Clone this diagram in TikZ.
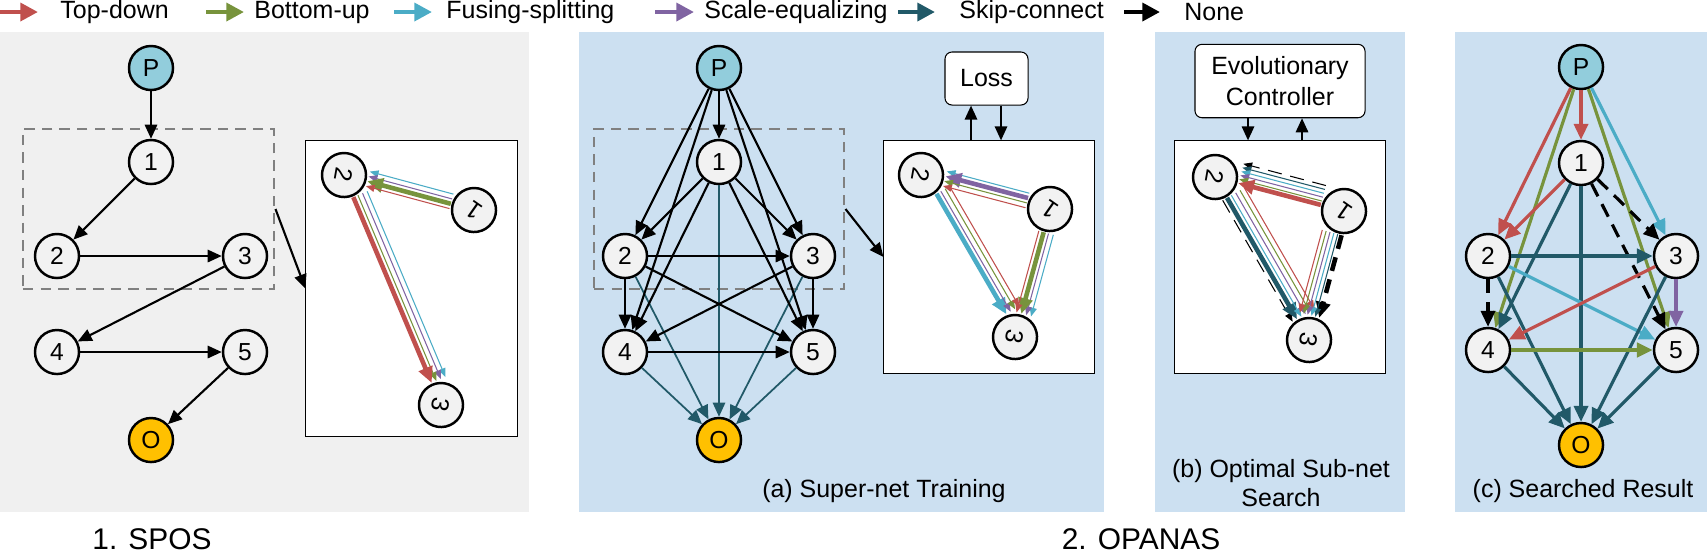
\documentclass[tikz,border=0pt]{standalone}
\usepackage{fontspec}
\setmainfont{Liberation Sans}
\usetikzlibrary{arrows.meta,calc}
\definecolor{cTD}{HTML}{C0504D}
\definecolor{cBU}{HTML}{77933C}
\definecolor{cFS}{HTML}{4BACC6}
\definecolor{cSE}{HTML}{8064A2}
\definecolor{cSK}{HTML}{215968}
\definecolor{ndfill}{HTML}{F2F2F2}
\definecolor{pfill}{HTML}{92CDDC}
\definecolor{ofill}{HTML}{FFC000}
\definecolor{grayp}{HTML}{F0F0F0}
\definecolor{bluep}{HTML}{CCE0F1}
\tikzset{
  nd/.style={circle,draw,line width=0.7pt,fill=ndfill,minimum size=0.44cm,inner sep=0pt,font=\fontsize{7}{8}\selectfont},
  pn/.style={nd,fill=pfill},
  onode/.style={nd,fill=ofill},
  ar/.style={line width=0.6pt,-{Triangle[length=4pt,width=3.5pt]}},
  thn/.style={line width=0.3pt,-{Triangle[length=2.5pt,width=2pt]}},
  thk/.style={line width=1.3pt,-{Triangle[length=4.5pt,width=4pt]}},
  none/.style={dashed,dash pattern=on 4pt off 2.5pt},
  lg/.style={line width=1.3pt,-{Triangle[length=5pt,width=5pt]}},
  lt/.style={anchor=west,font=\fontsize{7.1}{8}\selectfont},
  box/.style={draw,line width=0.3pt,fill=white},
  capt/.style={font=\fontsize{7.1}{8.5}\selectfont,align=center},
  dbox/.style={draw=black!50,dashed,line width=0.8pt,dash pattern=on 3pt off 2pt},
}
% bundle of parallel edges: from, to, list of offset/style
\newcommand\bundle[3]{%
  \path ($(#1)!0.24cm!(#2)$) coordinate (bs) ($(#2)!0.24cm!(#1)$) coordinate (be);
  \foreach \o/\s in {#3}{
    \tikzset{bst/.style/.expand once=\s}
    \draw[bst] ($(bs)!\o!90:(#2)$) -- ($(be)!\o!-90:(#1)$);
  }}
\begin{document}
\begin{tikzpicture}[x=0.01cm,y=-0.01cm]
\useasboundingbox (0,0) rectangle (1707,553);
% panels
\fill[grayp] (0,32) rectangle (529,512);
\fill[bluep] (579,32) rectangle (1104,512);
\fill[bluep] (1155,32) rectangle (1405,512);
\fill[bluep] (1455,32) rectangle (1707,512);
% legend
\coordinate (l1a) at (0,12); \coordinate (l1b) at (38,12);
\draw[lg,cTD] (l1a) -- (l1b); \node[lt] (t1) at (48,12) {Top-down};
\coordinate (l2a) at (206,12); \coordinate (l2b) at (244,12);
\draw[lg,cBU] (l2a) -- (l2b); \node[lt] (t2) at (242,12) {Bottom-up};
\coordinate (l3a) at (394,12); \coordinate (l3b) at (432,12);
\draw[lg,cFS] (l3a) -- (l3b); \node[lt] (t3) at (434,12) {Fusing-splitting};
\coordinate (l4a) at (655,12); \coordinate (l4b) at (694,12);
\draw[lg,cSE] (l4a) -- (l4b); \node[lt] (t4) at (692,12) {Scale-equalizing};
\coordinate (l5a) at (898,12); \coordinate (l5b) at (935,12);
\draw[lg,cSK] (l5a) -- (l5b); \node[lt] (t5) at (947,12) {Skip-connect};
\coordinate (l6a) at (1124,12); \coordinate (l6b) at (1160,12);
\draw[lg,none,dash pattern=on 6pt off 4pt] (l6a) -- (l6b); \node[lt] (t6) at (1172,12) {None};

% ---------- SPOS ----------
\node[dbox,minimum width=2.51cm,minimum height=1.6cm] (sd) at (148.5,209) {};
\node[box,minimum width=2.11cm,minimum height=2.95cm] (sb) at (411.5,288.5) {};
\draw[ar] (sd.east) -- (sb.west);
\node[pn] (sP) at (151,68) {P};
\node[nd] (s1) at (151,162) {1};
\node[nd] (s2) at (57,256) {2};
\node[nd] (s3) at (245,256) {3};
\node[nd] (s4) at (57,352) {4};
\node[nd] (s5) at (245,352) {5};
\node[onode] (sO) at (151,440) {O};
\draw[ar] (sP) -- (s1); \draw[ar] (s1) -- (s2); \draw[ar] (s2) -- (s3);
\draw[ar] (s3) -- (s4); \draw[ar] (s4) -- (s5); \draw[ar] (s5) -- (sO);
\node[nd,rotate=-100] (i2) at (344,175) {2};
\node[nd,rotate=145] (i1) at (474,210) {1};
\node[nd,rotate=-100] (i3) at (441,405) {3};
\bundle{i1}{i2}{-0.1cm/{thn,cFS},-0.05cm/{thn,cSE},0cm/{thk,cBU},0.05cm/{thn,cTD}}
\bundle{i2}{i3}{0.15cm/{thn,cFS},0.1cm/{thn,cSE},0.05cm/{thn,cBU},0cm/{thk,cTD}}
\node[capt,font=\fontsize{8.5}{10}\selectfont] (sc) at (152,539) {1. SPOS};

% ---------- OPANAS (a) ----------
\node[dbox,minimum width=2.5cm,minimum height=1.6cm] (ad) at (719,209) {};
\node[box,minimum width=2.1cm,minimum height=2.32cm] (ab) at (989,257) {};
\draw[ar] (ad.east) -- (ab.west);
\node[box,rounded corners=2pt,minimum width=0.83cm,minimum height=0.53cm,font=\fontsize{7.1}{8}\selectfont] (loss) at (986.5,78.5) {Loss};
\draw[ar] (ab.north -| 971,0) -- (loss.south -| 971,0);
\draw[ar] (loss.south -| 1001,0) -- (ab.north -| 1001,0);
\node[pn] (aP) at (719,68) {P};
\node[nd] (a1) at (719,162) {1};
\node[nd] (a2) at (625,256) {2};
\node[nd] (a3) at (813,256) {3};
\node[nd] (a4) at (625,352) {4};
\node[nd] (a5) at (813,352) {5};
\node[onode] (aO) at (719,440) {O};
\foreach \t in {1,...,5} \draw[ar,cSK,line width=0.5pt] (a\t) -- (aO);
\foreach \t in {1,...,5} \draw[ar] (aP) -- (a\t);
\foreach \f/\t in {1/2,1/3,1/4,1/5,2/3,2/4,2/5,3/4,3/5,4/5} \draw[ar] (a\f) -- (a\t);
\node[nd,rotate=-100] (j2) at (921,175) {2};
\node[nd,rotate=145] (j1) at (1050,209) {1};
\node[nd,rotate=-100] (j3) at (1015,337) {3};
\bundle{j1}{j2}{-0.1cm/{thn,cFS},-0.05cm/{thk,cSE},0cm/{thn,cBU},0.05cm/{thn,cTD}}
\bundle{j2}{j3}{0.04cm/{thk,cFS},0.09cm/{thn,cSE},0.14cm/{thn,cBU},0.19cm/{thn,cTD}}
\bundle{j1}{j3}{0.1cm/{thn,cFS},0.05cm/{thn,cSE},0cm/{thk,cBU},-0.05cm/{thn,cTD}}
\node[capt,anchor=east] (acap) at (1018,491) {(a) Super-net Training};

% ---------- OPANAS (b) ----------
\node[box,minimum width=2.1cm,minimum height=2.32cm] (bb) at (1280,257) {};
\node[box,rounded corners=2pt,minimum width=1.7cm,minimum height=0.72cm,font=\fontsize{7.1}{9}\selectfont,align=center] (evo) at (1280,81) {Evolutionary\\Controller};
\draw[ar] (evo.south -| 1248,0) -- (bb.north -| 1248,0);
\draw[ar] (bb.north -| 1302,0) -- (evo.south -| 1302,0);
\node[nd,rotate=-100] (k2) at (1215,177) {2};
\node[nd,rotate=145] (k1) at (1344,211) {1};
\node[nd,rotate=-100] (k3) at (1309,340) {3};
\bundle{k1}{k2}{-0.2cm/{thn,none,black},-0.16cm/{thn,cSK},-0.12cm/{thn,cFS},-0.08cm/{thn,cSE},-0.04cm/{thn,cBU},0cm/{thk,cTD}}
\bundle{k2}{k3}{-0.05cm/{thn,none,black},0cm/{thk,cSK},0.05cm/{thn,cFS},0.1cm/{thn,cSE},0.15cm/{thn,cBU},0.2cm/{thn,cTD}}
\bundle{k1}{k3}{0.04cm/{thk,none,black},0cm/{thn,cSK},-0.04cm/{thn,cFS},-0.08cm/{thn,cSE},-0.12cm/{thn,cBU},-0.16cm/{thn,cTD}}
\node[capt] (bcap) at (1281,483) {(b) Optimal Sub-net\\Search};

% ---------- OPANAS (c) ----------
\node[pn] (cP) at (1581,67) {P};
\node[nd] (c1) at (1581,163) {1};
\node[nd] (c2) at (1488,256) {2};
\node[nd] (c3) at (1676,256) {3};
\node[nd] (c4) at (1488,350) {4};
\node[nd] (c5) at (1676,350) {5};
\node[onode] (cO) at (1581,445) {O};
\tikzset{ce/.style={line width=0.9pt,-{Triangle[length=4.5pt,width=4pt]}}}
\draw[ce,cTD] (cP) -- (c1); \draw[ce,cTD] (cP) -- (c2);
\draw[ce,cBU] (cP) -- (c4); \draw[ce,cBU] (cP) -- (c5);
\draw[ce,cFS] (cP) -- (c3);
\draw[ce,cTD] (c1) -- (c2);
\draw[ce,none,black] (c1) -- (c3); \draw[ce,none,black] (c1) -- (c5);
\draw[ce,cSK] (c1) -- (c4); \draw[ce,cSK] (c1) -- (cO);
\draw[ce,cSK,line width=1.3pt] (c2) -- (c3);
\draw[ce,none,black] (c2) -- (c4);
\draw[ce,cFS] (c2) -- (c5); \draw[ce,cSK] (c2) -- (cO);
\draw[ce,cTD] (c3) -- (c4); \draw[ce,cSE] (c3) -- (c5); \draw[ce,cSK] (c3) -- (cO);
\draw[ce,cBU,line width=1.3pt] (c4) -- (c5);
\draw[ce,cSK] (c4) -- (cO); \draw[ce,cSK] (c5) -- (cO);
\node[capt] (ccap) at (1583,491) {(c) Searched Result};

\node[capt,font=\fontsize{8.5}{10}\selectfont] (oc) at (1141,539) {2. OPANAS};
\end{tikzpicture}
\end{document}
